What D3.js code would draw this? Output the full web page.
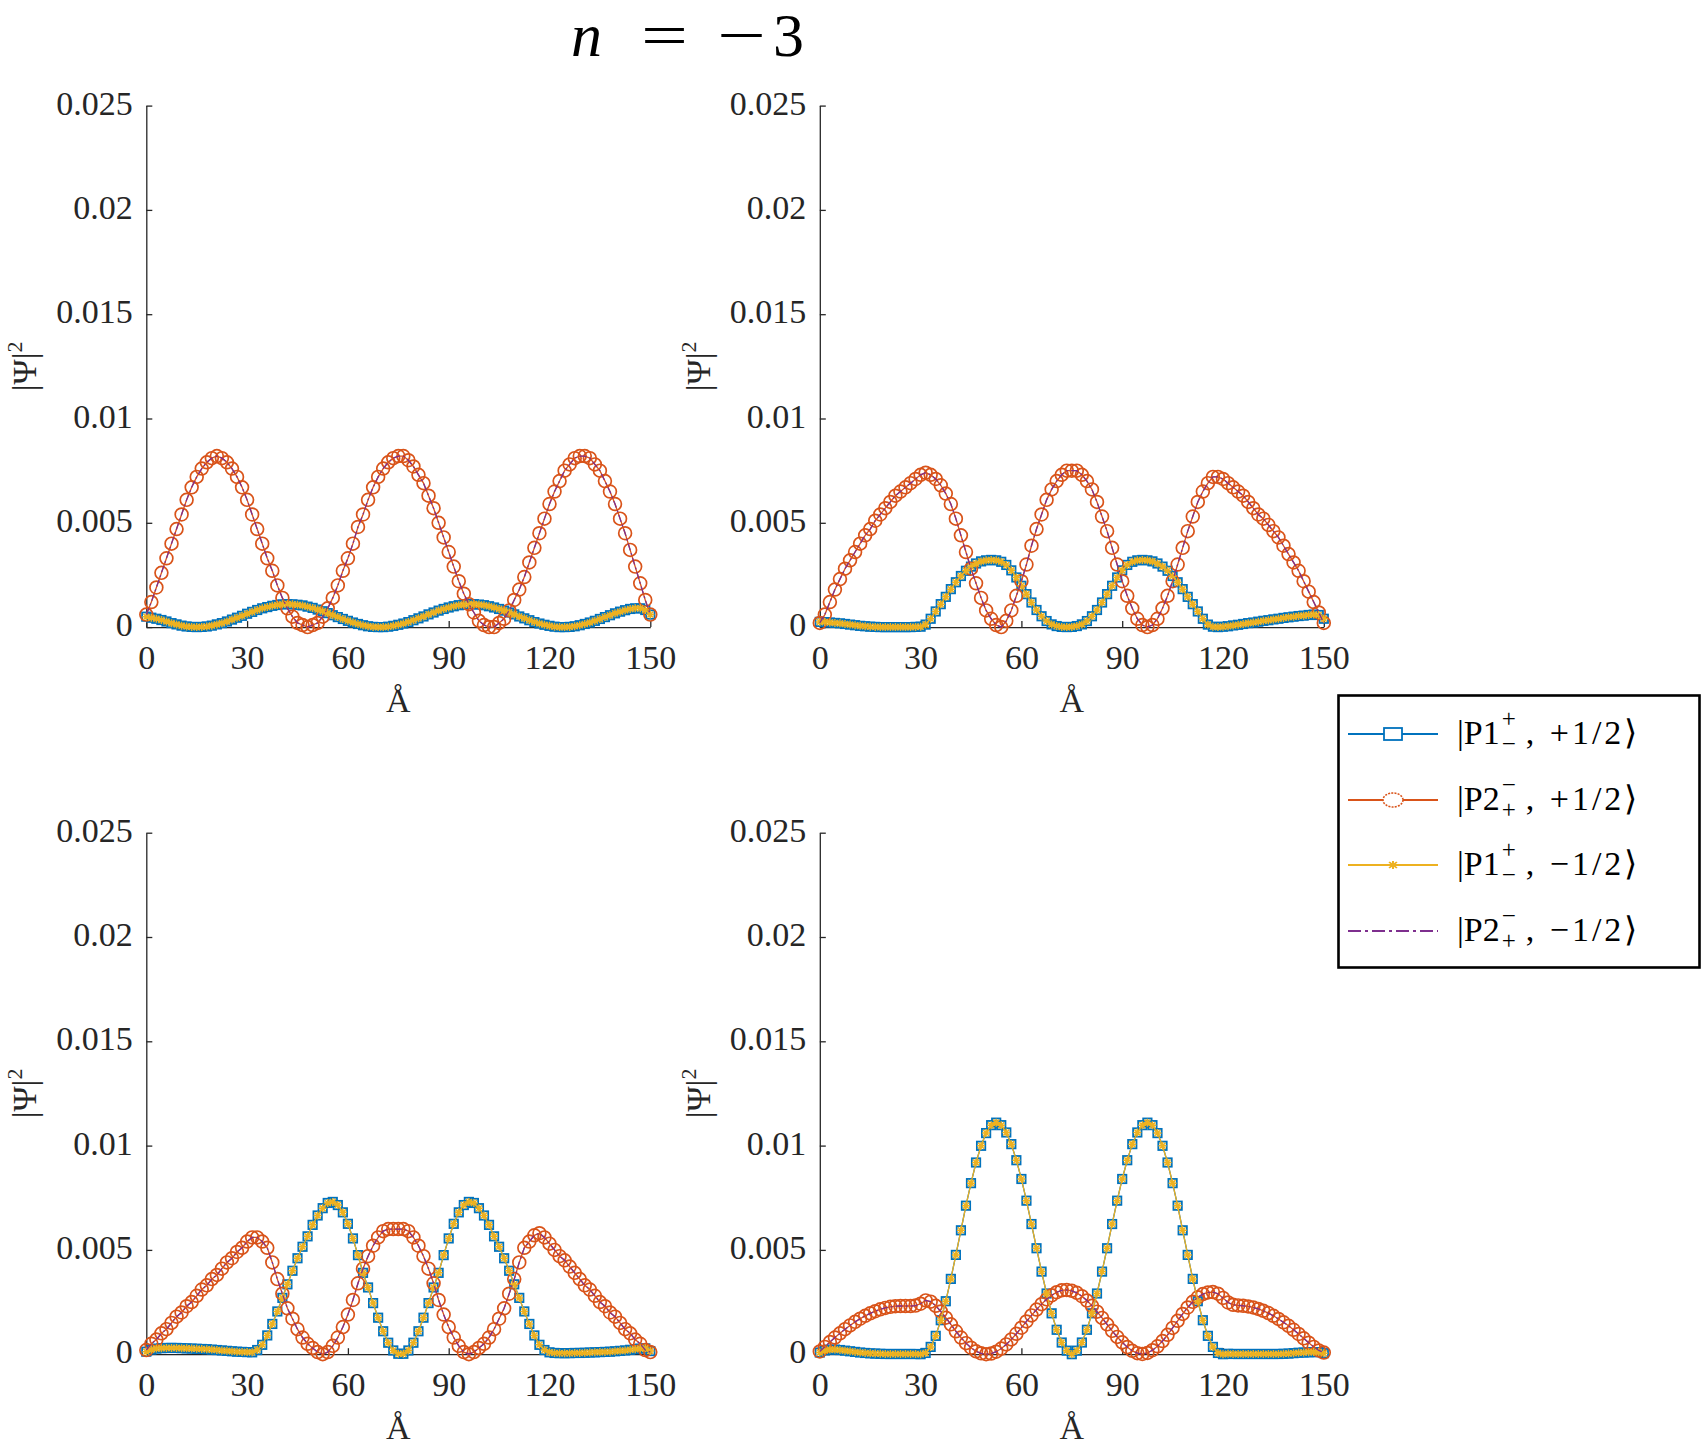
<!DOCTYPE html>
<html>
<head>
<meta charset="utf-8">
<script src="https://cdn.jsdelivr.net/npm/d3@7"></script>
<style>
  html, body { margin: 0; padding: 0; background: #fff; }
  svg { display: block; }
</style>
</head>
<body>
<div id="figure"></div>
<script>
// sampling grid along the well (Å)
const positions = [0,1.5,3,4.5,6,7.5,9,10.5,12,13.5,15,16.5,18,19.5,21,22.5,24,25.5,27,28.5,
  30,31.5,33,34.5,36,37.5,39,40.5,42,43.5,45,46.5,48,49.5,51,52.5,54,55.5,57,58.5,
  60,61.5,63,64.5,66,67.5,69,70.5,72,73.5,75,76.5,78,79.5,81,82.5,84,85.5,87,88.5,
  90,91.5,93,94.5,96,97.5,99,100.5,102,103.5,105,106.5,108,109.5,111,112.5,114,115.5,117,118.5,
  120,121.5,123,124.5,126,127.5,129,130.5,132,133.5,135,136.5,138,139.5,141,142.5,144,145.5,147,148.5,150];

// |Psi|^2, P1 and P2 components (the -1/2 spin partners overlap them)
const topLeftP1 = [0.00050,0.00045,0.00040,0.00034,0.00027,0.00019,0.00013,0.00007,0.00003,0.00001,
  0.00000,0.00001,0.00003,0.00007,0.00013,0.00019,0.00027,0.00036,0.00045,0.00054,
  0.00064,0.00073,0.00082,0.00090,0.00096,0.00102,0.00106,0.00109,0.00110,0.00109,
  0.00107,0.00104,0.00098,0.00092,0.00084,0.00076,0.00067,0.00057,0.00048,0.00039,
  0.00030,0.00022,0.00015,0.00009,0.00004,0.00001,0.00000,0.00000,0.00002,0.00006,
  0.00011,0.00017,0.00024,0.00033,0.00042,0.00051,0.00061,0.00070,0.00079,0.00087,
  0.00094,0.00100,0.00105,0.00108,0.00110,0.00110,0.00108,0.00105,0.00100,0.00094,
  0.00087,0.00079,0.00070,0.00061,0.00051,0.00042,0.00033,0.00024,0.00017,0.00011,
  0.00006,0.00002,0.00000,0.00000,0.00001,0.00004,0.00009,0.00015,0.00022,0.00030,
  0.00039,0.00048,0.00057,0.00066,0.00074,0.00081,0.00087,0.00090,0.00090,0.00082,
  0.00060];
const topLeftP2 = [0.0006,0.0012,0.0019,0.0026,0.0033,0.0040,0.0047,0.0054,0.0061,0.0067,
  0.0072,0.0076,0.0079,0.0081,0.0082,0.0081,0.0079,0.0076,0.0072,0.0067,
  0.0061,0.0054,0.0047,0.0040,0.0033,0.0027,0.0020,0.0014,0.0009,0.0005,
  0.0002,0.0001,0.0000,0.0001,0.0002,0.0005,0.0009,0.0014,0.0020,0.0027,
  0.0033,0.0040,0.0048,0.0054,0.0061,0.0067,0.0072,0.0076,0.0079,0.0081,
  0.0082,0.0082,0.0080,0.0077,0.0073,0.0069,0.0063,0.0057,0.0050,0.0043,
  0.0036,0.0029,0.0022,0.0016,0.0011,0.0007,0.0003,0.0001,0.0000,0.0000,
  0.0002,0.0004,0.0008,0.0013,0.0018,0.0024,0.0031,0.0038,0.0045,0.0052,
  0.0059,0.0065,0.0070,0.0075,0.0078,0.0081,0.0082,0.0082,0.0081,0.0078,
  0.0075,0.0070,0.0065,0.0059,0.0052,0.0045,0.0037,0.0029,0.0021,0.0013,
  0.0006];

const topRightP1 = [0.00025,0.00024,0.00022,0.00020,0.00018,0.00015,0.00012,0.00009,0.00006,0.00004,
  0.00002,0.00001,0.00000,0.00000,0.00000,0.00000,0.00000,0.00000,0.00000,0.00001,
  0.00002,0.00012,0.00040,0.00075,0.00110,0.00145,0.00182,0.00215,0.00245,0.00270,
  0.00290,0.00305,0.00315,0.00320,0.00322,0.00320,0.00313,0.00298,0.00272,0.00238,
  0.00198,0.00158,0.00118,0.00082,0.00052,0.00029,0.00013,0.00005,0.00001,0.00000,
  0.00001,0.00005,0.00013,0.00029,0.00052,0.00082,0.00118,0.00158,0.00198,0.00238,
  0.00272,0.00298,0.00313,0.00320,0.00322,0.00320,0.00315,0.00305,0.00290,0.00270,
  0.00245,0.00215,0.00182,0.00145,0.00110,0.00075,0.00040,0.00012,0.00002,0.00000,
  0.00002,0.00004,0.00008,0.00011,0.00015,0.00019,0.00022,0.00026,0.00030,0.00033,
  0.00037,0.00040,0.00044,0.00047,0.00050,0.00053,0.00055,0.00058,0.00060,0.00058,
  0.00040];
const topRightP2 = [0.0002,0.0006,0.0012,0.0018,0.0023,0.0028,0.0032,0.0036,0.0040,0.0044,
  0.0047,0.0051,0.0054,0.0057,0.0060,0.0063,0.0065,0.0067,0.0069,0.0071,
  0.0073,0.0074,0.0073,0.0071,0.0068,0.0064,0.0059,0.0052,0.0044,0.0036,
  0.0028,0.0021,0.0014,0.0008,0.0004,0.0001,0.0000,0.0003,0.0008,0.0015,
  0.0022,0.0030,0.0039,0.0047,0.0054,0.0061,0.0066,0.0070,0.0073,0.0075,
  0.0075,0.0075,0.0073,0.0070,0.0066,0.0060,0.0053,0.0046,0.0038,0.0030,
  0.0022,0.0015,0.0009,0.0004,0.0001,0.0000,0.0001,0.0004,0.0009,0.0015,
  0.0022,0.0030,0.0038,0.0046,0.0053,0.0060,0.0065,0.0069,0.0072,0.0072,
  0.0071,0.0069,0.0067,0.0065,0.0063,0.0060,0.0057,0.0054,0.0052,0.0049,
  0.0046,0.0043,0.0039,0.0035,0.0031,0.0027,0.0022,0.0017,0.0012,0.0007,
  0.0002];

const bottomLeftP1 = [0.00012,0.00022,0.00027,0.00029,0.00030,0.00030,0.00030,0.00029,0.00028,0.00027,
  0.00026,0.00025,0.00024,0.00022,0.00020,0.00018,0.00016,0.00014,0.00012,0.00011,
  0.00010,0.00009,0.00020,0.00045,0.00090,0.00145,0.00205,0.00270,0.00335,0.00400,
  0.00460,0.00515,0.00565,0.00620,0.00665,0.00700,0.00725,0.00730,0.00715,0.00680,
  0.00625,0.00555,0.00475,0.00390,0.00320,0.00245,0.00175,0.00110,0.00055,0.00018,
  0.00002,0.00002,0.00018,0.00055,0.00110,0.00175,0.00245,0.00320,0.00390,0.00475,
  0.00555,0.00625,0.00680,0.00715,0.00730,0.00725,0.00700,0.00665,0.00620,0.00565,
  0.00515,0.00460,0.00400,0.00335,0.00270,0.00205,0.00145,0.00090,0.00045,0.00020,
  0.00009,0.00006,0.00005,0.00005,0.00005,0.00006,0.00006,0.00007,0.00008,0.00009,
  0.00010,0.00011,0.00012,0.00014,0.00016,0.00018,0.00021,0.00024,0.00027,0.00028,
  0.00015];
const bottomLeftP2 = [0.0002,0.0005,0.0007,0.0010,0.0012,0.0015,0.0018,0.0020,0.0023,0.0025,
  0.0028,0.0031,0.0033,0.0036,0.0038,0.0041,0.0044,0.0046,0.0049,0.0051,
  0.0054,0.0056,0.0056,0.0054,0.0051,0.0044,0.0036,0.0029,0.0022,0.0017,
  0.0012,0.0008,0.0005,0.0003,0.0001,0.0000,0.0001,0.0004,0.0008,0.0013,
  0.0019,0.0026,0.0034,0.0041,0.0047,0.0052,0.0056,0.0059,0.0060,0.0060,
  0.0060,0.0060,0.0059,0.0056,0.0052,0.0047,0.0041,0.0034,0.0026,0.0019,
  0.0013,0.0008,0.0004,0.0001,0.0000,0.0001,0.0003,0.0005,0.0008,0.0012,
  0.0017,0.0022,0.0029,0.0036,0.0044,0.0051,0.0054,0.0057,0.0058,0.0056,
  0.0053,0.0050,0.0047,0.0045,0.0042,0.0039,0.0036,0.0033,0.0031,0.0028,
  0.0025,0.0023,0.0020,0.0018,0.0015,0.0012,0.0010,0.0007,0.0005,0.0002,
  0.0001];

const bottomRightP1 = [0.00008,0.00018,0.00022,0.00022,0.00020,0.00017,0.00014,0.00011,0.00008,0.00006,
  0.00004,0.00003,0.00002,0.00001,0.00001,0.00001,0.00001,0.00001,0.00001,0.00001,
  0.00000,0.00006,0.00035,0.00088,0.00163,0.00254,0.00361,0.00476,0.00594,0.00712,
  0.00820,0.00919,0.00999,0.01060,0.01098,0.01110,0.01098,0.01063,0.01007,0.00930,
  0.00840,0.00736,0.00624,0.00508,0.00396,0.00291,0.00196,0.00117,0.00056,0.00017,
  0.00000,0.00017,0.00056,0.00117,0.00196,0.00291,0.00396,0.00508,0.00624,0.00736,
  0.00840,0.00930,0.01007,0.01063,0.01098,0.01110,0.01098,0.01060,0.00999,0.00919,
  0.00820,0.00712,0.00594,0.00476,0.00361,0.00254,0.00163,0.00088,0.00035,0.00006,
  0.00000,0.00002,0.00001,0.00001,0.00001,0.00001,0.00001,0.00001,0.00001,0.00001,
  0.00001,0.00001,0.00002,0.00003,0.00005,0.00007,0.00008,0.00009,0.00010,0.00010,
  0.00005];
const bottomRightP2 = [0.00013,0.00035,0.00058,0.00080,0.00100,0.00120,0.00138,0.00155,0.00170,0.00184,
  0.00196,0.00206,0.00215,0.00222,0.00227,0.00230,0.00231,0.00231,0.00231,0.00233,
  0.00242,0.00258,0.00252,0.00232,0.00205,0.00175,0.00143,0.00110,0.00080,0.00053,
  0.00031,0.00014,0.00004,0.00000,0.00003,0.00012,0.00027,0.00047,0.00071,0.00098,
  0.00127,0.00157,0.00186,0.00214,0.00240,0.00263,0.00282,0.00297,0.00306,0.00308,
  0.00304,0.00294,0.00278,0.00257,0.00232,0.00204,0.00174,0.00143,0.00112,0.00083,
  0.00057,0.00034,0.00016,0.00005,0.00001,0.00006,0.00019,0.00038,0.00063,0.00093,
  0.00126,0.00160,0.00193,0.00224,0.00251,0.00273,0.00288,0.00296,0.00298,0.00290,
  0.00270,0.00248,0.00237,0.00234,0.00232,0.00229,0.00224,0.00217,0.00208,0.00197,
  0.00184,0.00169,0.00153,0.00136,0.00117,0.00097,0.00076,0.00055,0.00035,0.00018,
  0.00008];

const xTickValues = [0, 30, 60, 90, 120, 150];
const yTickValues = [0, 0.005, 0.01, 0.015, 0.02, 0.025];
const yTickLabels = ['0', '0.005', '0.01', '0.015', '0.02', '0.025'];

const legendLabels = [
  {base: '|P1', sup: '+', sub: '\u2212', spin: '+1/2\u27E9'},
  {base: '|P2', sup: '\u2212', sub: '+', spin: '+1/2\u27E9'},
  {base: '|P1', sup: '+', sub: '\u2212', spin: '\u22121/2\u27E9'},
  {base: '|P2', sup: '\u2212', sub: '+', spin: '\u22121/2\u27E9'}
];

// panel order: top-left, top-right, bottom-left, bottom-right
const panelValues = [
  [topLeftP1, topLeftP2],
  [topRightP1, topRightP2],
  [bottomLeftP1, bottomLeftP2],
  [bottomRightP1, bottomRightP2]
];

// ---- layout / style ----
const W = 1704, H = 1447;
const plotW = 504, plotH = 521.5;
const panelOrigins = [
  {left: 146.3, top: 105.6},
  {left: 819.8, top: 105.6},
  {left: 146.3, top: 832.7},
  {left: 819.8, top: 832.7}
];
const serif = "'Liberation Serif', 'Times New Roman', serif";
const axisColor = '#262626';

// blue, orange, yellow, purple  (P1 +1/2, P2 +1/2, P1 -1/2, P2 -1/2)
const seriesStyles = [
  {color: '#0072BD', marker: 'square', dash: null, comp: 0},
  {color: '#D95319', marker: 'circle', dash: null, comp: 1},
  {color: '#EDB120', marker: 'star', dash: null, comp: 0},
  {color: '#7E2F8E', marker: null, dash: '7,3,2,3', comp: 1}
];

const svg = d3.select('#figure').append('svg')
  .attr('width', W)
  .attr('height', H)
  .attr('viewBox', [0, 0, W, H]);

svg.append('rect').attr('width', W).attr('height', H).attr('fill', '#fff');

const x = d3.scaleLinear().domain([0, 150]).range([0, plotW]);
const y = d3.scaleLinear().domain([0, 0.025]).range([plotH, 0]);

const starPath = 'M-4,0H4M0,-4V4M-3,-3L3,3M-3,3L3,-3';

function drawMarkers(g, pts, style) {
  if (style.marker === 'square') {
    g.selectAll('rect.mk').data(pts).join('rect')
      .attr('class', 'mk')
      .attr('x', d => x(d.x) - 4.2)
      .attr('y', d => y(d.v) - 4.2)
      .attr('width', 8.4).attr('height', 8.4)
      .attr('fill', 'none').attr('stroke', style.color).attr('stroke-width', 1.8);
  } else if (style.marker === 'circle') {
    g.selectAll('circle.mk').data(pts).join('circle')
      .attr('class', 'mk')
      .attr('cx', d => x(d.x)).attr('cy', d => y(d.v)).attr('r', 6.4)
      .attr('fill', 'none').attr('stroke', style.color).attr('stroke-width', 1.7);
  } else if (style.marker === 'star') {
    g.selectAll('path.mk').data(pts).join('path')
      .attr('class', 'mk')
      .attr('transform', d => `translate(${x(d.x)},${y(d.v)})`)
      .attr('d', starPath)
      .attr('fill', 'none').attr('stroke', style.color).attr('stroke-width', 1.5);
  }
}

const line = d3.line().x(d => x(d.x)).y(d => y(d.v));

panelValues.forEach((comps, i) => {
  const o = panelOrigins[i];
  const chart = svg.append('g').attr('transform', `translate(${o.left},${o.top})`);

  // axes (MATLAB style: ticks inside, no box)
  const xAxisG = chart.append('g')
    .attr('transform', `translate(0,${plotH})`)
    .call(d3.axisBottom(x).tickValues(xTickValues).tickSizeInner(-6).tickSizeOuter(0).tickPadding(18));
  const yAxisG = chart.append('g')
    .call(d3.axisLeft(y).tickValues(yTickValues).tickSizeInner(-6).tickSizeOuter(0).tickPadding(13.5)
      .tickFormat((d, j) => yTickLabels[j]));
  yAxisG.selectAll('.tick text').attr('dy', '0.25em');
  [xAxisG, yAxisG].forEach(a => {
    a.attr('font-family', serif).attr('font-size', 34);
    a.select('.domain').attr('stroke', axisColor).attr('stroke-width', 1.3);
    a.selectAll('.tick line').attr('stroke', axisColor).attr('stroke-width', 1.3);
    a.selectAll('.tick text').attr('fill', axisColor);
  });

  // axis labels
  chart.append('text')
    .attr('x', plotW / 2).attr('y', plotH + 85)
    .attr('text-anchor', 'middle')
    .attr('font-family', serif).attr('font-size', 34).attr('fill', axisColor)
    .text('\u00C5');
  const yl = chart.append('text')
    .attr('transform', `translate(-110,${plotH / 2}) rotate(-90)`)
    .attr('text-anchor', 'middle')
    .attr('font-family', serif).attr('font-size', 34).attr('fill', axisColor);
  yl.append('tspan').text('|\u03A8|');
  yl.append('tspan').attr('font-size', 22).attr('dy', -14).text('2');

  // series
  seriesStyles.forEach(style => {
    const vals = comps[style.comp];
    const pts = positions.map((px, k) => ({x: px, v: vals[k]}));
    const sg = chart.append('g');
    sg.append('path')
      .datum(pts)
      .attr('d', line)
      .attr('fill', 'none')
      .attr('stroke', style.color)
      .attr('stroke-width', 1.3)
      .attr('stroke-dasharray', style.dash);
    drawMarkers(sg, pts, style);
  });
});

// ---- title ----
const title = svg.append('g').attr('font-family', serif).attr('font-size', 62).attr('fill', '#000');
title.append('text').attr('x', 571).attr('y', 56).attr('font-style', 'italic').text('n');
title.append('text').attr('x', 641).attr('y', 56)
  .attr('textLength', 47).attr('lengthAdjust', 'spacingAndGlyphs').text('=');
title.append('text').attr('x', 717).attr('y', 56)
  .attr('textLength', 49).attr('lengthAdjust', 'spacingAndGlyphs').text('\u2212');
title.append('text').attr('x', 773).attr('y', 56).text('3');

// ---- legend ----
const legend = svg.append('g');
legend.append('rect')
  .attr('x', 1338.5).attr('y', 695.5)
  .attr('width', 361).attr('height', 272)
  .attr('fill', '#fff').attr('stroke', '#000').attr('stroke-width', 2.6);

const rowY = [734, 800, 865, 931];
seriesStyles.forEach((style, i) => {
  const cy = rowY[i];
  const row = legend.append('g');
  row.append('line')
    .attr('x1', 1348).attr('x2', 1438).attr('y1', cy).attr('y2', cy)
    .attr('stroke', style.color).attr('stroke-width', 2)
    .attr('stroke-dasharray', style.dash ? '13,4,3,4' : null);
  const mx = 1393;
  if (style.marker === 'square') {
    row.append('rect').attr('x', mx - 9).attr('y', cy - 6).attr('width', 18).attr('height', 12)
      .attr('fill', '#fff').attr('stroke', style.color).attr('stroke-width', 1.8);
  } else if (style.marker === 'circle') {
    row.append('ellipse').attr('cx', mx).attr('cy', cy).attr('rx', 10).attr('ry', 7)
      .attr('fill', '#fff').attr('stroke', style.color).attr('stroke-width', 1.6)
      .attr('stroke-dasharray', '2,1.2');
  } else if (style.marker === 'star') {
    row.append('path').attr('transform', `translate(${mx},${cy}) scale(1.3,1.0)`)
      .attr('d', starPath).attr('fill', 'none').attr('stroke', style.color).attr('stroke-width', 1.5);
  }

  const lab = legendLabels[i];
  const tx = 1457, base = cy + 10;
  const t1 = row.append('text').attr('x', tx).attr('y', base)
    .attr('font-family', serif).attr('font-size', 34).attr('fill', '#000').text(lab.base);
  const w1 = t1.node().getComputedTextLength();
  const sx = tx + w1 + 2;
  row.append('text').attr('x', sx).attr('y', base - 17)
    .attr('font-family', serif).attr('font-size', 25).attr('fill', '#000').text(lab.sup);
  row.append('text').attr('x', sx).attr('y', base + 8)
    .attr('font-family', serif).attr('font-size', 25).attr('fill', '#000').text(lab.sub);
  row.append('text').attr('x', sx + 24).attr('y', base)
    .attr('font-family', serif).attr('font-size', 34).attr('fill', '#000').text(',');
  row.append('text').attr('x', sx + 48).attr('y', base)
    .attr('font-family', serif).attr('font-size', 34).attr('fill', '#000')
    .attr('letter-spacing', 3)
    .text(lab.spin);
});
</script>
</body>
</html>
